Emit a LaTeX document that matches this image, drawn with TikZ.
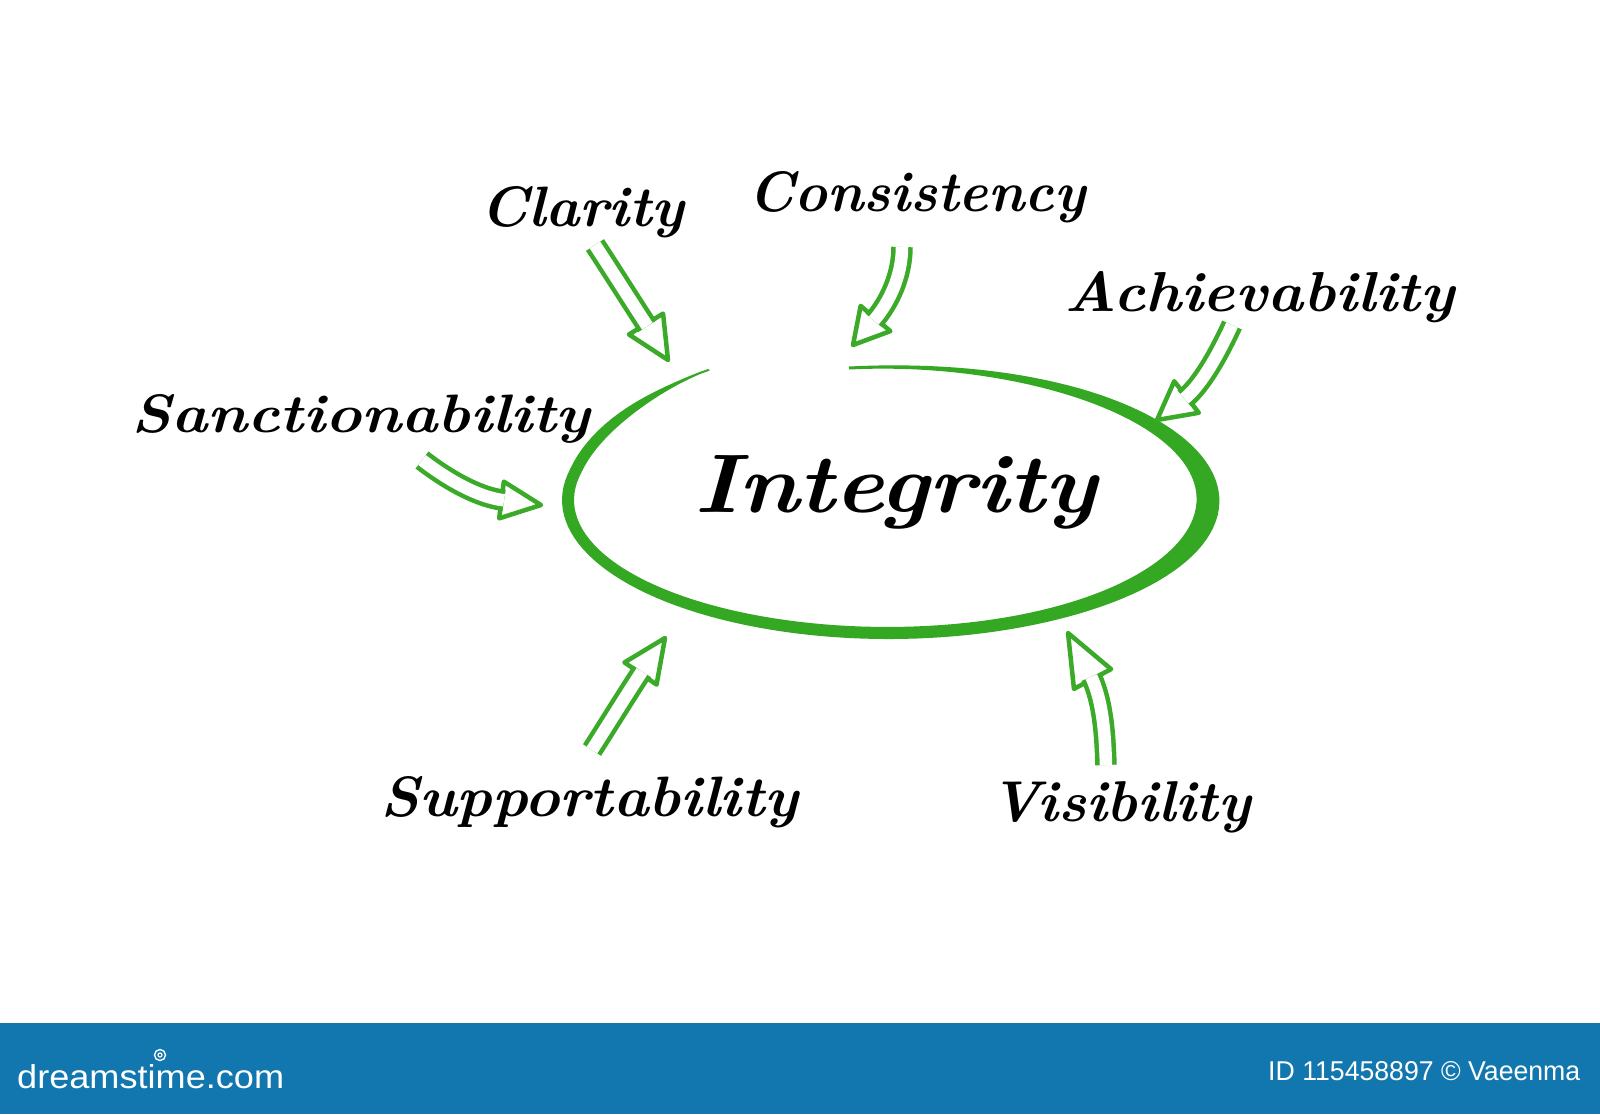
\documentclass[tikz,border=0pt]{standalone}
\usepackage{fontspec}
\usepackage{graphicx}
\newfontfamily\barfont{Liberation Sans}
\usetikzlibrary{calc}
\definecolor{agreen}{RGB}{58,170,40}
\definecolor{egreen}{RGB}{52,168,34}
\definecolor{barblue}{RGB}{17,119,174}
\tikzset{
  lbl/.style={inner sep=0pt, anchor=base west, font=\bfseries\itshape},
  arrhead/.style={draw=agreen, fill=white, line width=4.5pt, line join=round},
  arrshaft/.style={draw=agreen, line width=4.5pt, double=white, double distance=12.5pt},
  bartext/.style={inner sep=0pt, anchor=base west, text=white, font=\barfont},
  declare function={
    ew(\t)=12 + 11*exp(max(-20,-((\t-5)/38)*((\t-5)/38)))
              - 9*exp(max(-20,-((\t+97)/40)*((\t+97)/40)))
              - 10*exp(max(-20,-((\t-236)/18)*((\t-236)/18)));
    edy(\t)=-20*pow(max(0.0001,min(1,(\t-192)/43)),1.1);
  },
}
% #1 start, #2 c1, #3 c2, #4 head base centre, #5 tip, #6 head half width
\newcommand\hollowarr[6]{%
  \filldraw[arrhead] ($(#4)!#6!90:(#5)$) -- (#5) -- ($(#4)!#6!-90:(#5)$) -- cycle;
  \draw[arrshaft] (#1) .. controls (#2) and (#3) .. ($(#4)!2.6pt!(#5)$);
}
\begin{document}
\begin{tikzpicture}[x=1pt,y=-1pt]
\useasboundingbox (0,0) rectangle (1600,1114);
\fill[white] (0,0) rectangle (1600,1114);

% ---- central ellipse (hand-drawn stroke of varying width) ----
\fill[egreen]
  plot[domain=-97:236, samples=140, variable=\x]
    ({888+(320+ew(\x)/2)*cos(\x)}, {500+(133+ew(\x)/2)*sin(\x)+edy(\x)})
  -- plot[domain=-97:236, samples=140, variable=\x]
    ({888+(320-ew(139-\x)/2)*cos(139-\x)}, {500+(133-ew(139-\x)/2)*sin(139-\x)+edy(139-\x)})
  -- cycle;

% ---- labels ----
\node[lbl] (integrity) at (694,512) {\resizebox{403pt}{57pt}{Integrity}};
\node[lbl] (clarity) at (480,226) {\resizebox{204pt}{40pt}{Clarity}};
\node[lbl] (consistency) at (748,211) {\resizebox{337pt}{40pt}{Consistency}};
\node[lbl] (achievability) at (1064,311) {\resizebox{390pt}{40pt}{Achievability}};
\node[lbl] (sanction) at (131,432) {\resizebox{459pt}{38pt}{Sanctionability}};
\node[lbl] (support) at (380,816) {\resizebox{418pt}{40pt}{Supportability}};
\node[lbl] (visibility) at (990,821) {\resizebox{260pt}{40pt}{Visibility}};

% ---- arrow coordinates ----
\coordinate (clS) at (595,245);  \coordinate (clA) at (612,271); \coordinate (clB) at (629,298);
\coordinate (clH) at (646,324);  \coordinate (clT) at (668,360);

\coordinate (coS) at (902,247);  \coordinate (coA) at (902,276); \coordinate (coB) at (889,303);
\coordinate (coH) at (875.5,318.5); \coordinate (coT) at (853,345);

\coordinate (acS) at (1232,325); \coordinate (acA) at (1222,347); \coordinate (acB) at (1203,384);
\coordinate (acH) at (1186.5,397); \coordinate (acT) at (1157,420);

\coordinate (saS) at (422,460);  \coordinate (saA) at (444,477); \coordinate (saB) at (476,497);
\coordinate (saH) at (501.5,500); \coordinate (saT) at (541,505);

\coordinate (suS) at (592,750);  \coordinate (suA) at (608,725); \coordinate (suB) at (624,699);
\coordinate (suH) at (640.5,673.5); \coordinate (suT) at (665,638);

\coordinate (viS) at (1106,765); \coordinate (viA) at (1105,735); \coordinate (viB) at (1103,702);
\coordinate (viH) at (1092.5,679); \coordinate (viT) at (1068,633);

\hollowarr{clS}{clA}{clB}{clH}{clT}{20pt}
\hollowarr{coS}{coA}{coB}{coH}{coT}{19.5pt}
\hollowarr{acS}{acA}{acB}{acH}{acT}{20pt}
\hollowarr{saS}{saA}{saB}{saH}{saT}{18.5pt}
\hollowarr{suS}{suA}{suB}{suH}{suT}{19.5pt}
\hollowarr{viS}{viA}{viB}{viH}{viT}{21pt}

% ---- footer bar ----
\fill[barblue] (0,1023) rectangle (1600,1114);
\node[bartext] (brand) at (17,1088) {\resizebox{267pt}{24pt}{dreamstime.com}};
\draw[white, line width=1.4pt] (160,1055) circle (5.5pt);
\draw[white, line width=1.2pt] (160,1055) circle (2pt);
\node[bartext] (imgid) at (1268,1080) {\resizebox{312pt}{19pt}{ID 115458897 \textcopyright{} Vaeenma}};
\end{tikzpicture}
\end{document}
